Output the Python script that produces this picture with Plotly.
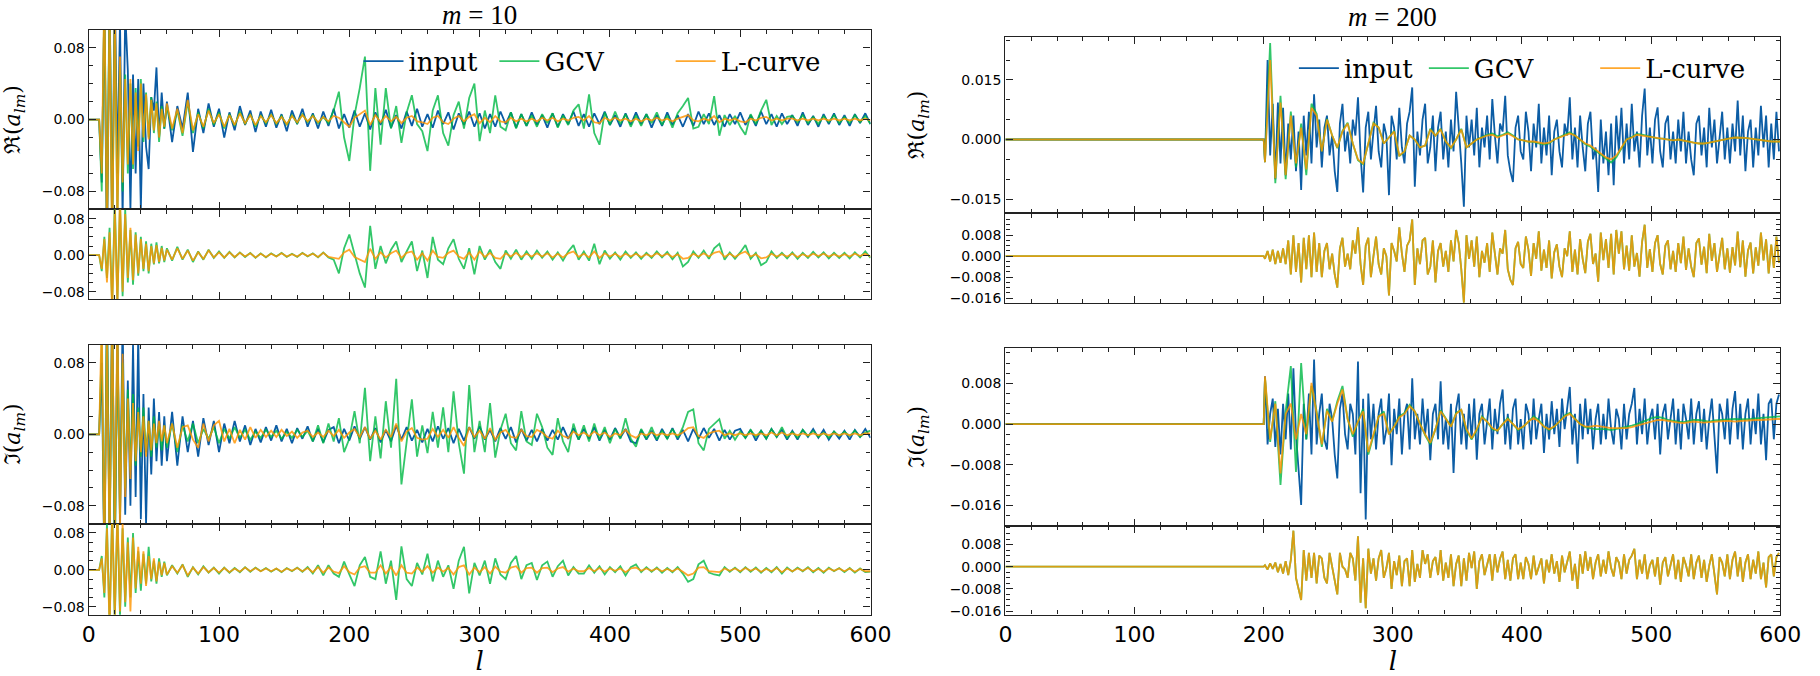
import plotly.graph_objects as go

W, H = 1820, 676

# ---------------- l grids ----------------
L_M10 = list(range(0, 60, 2)) + list(range(60, 601, 4))
L_M200 = [0, 200] + list(range(201, 598, 4)) + [600]          # smooth reconstructions
L_M200_FINE = [0, 200] + list(range(201, 600, 2))              # noisy input / residuals

# ---------------- m = 10 (values in units of 1e-3) ----------------
RE10_IN = [
 0,0,0,0,0,-70,130,-150,140,-120,150,-60,110,-110,120,55,-100,50,-60,45,-100,40,-30,-55,25,10,58,-20,30,-10,
 20,-25,15,-10,30,-36,12,-15,18,-8,
 12,-20,8,-12,15,-6,10,-14,9,-8,
 11,-9,6,-13,10,-5,12,-8,7,-10,
 9,-7,12,-10,6,-9,10,-8,7,-11,
 8,-6,11,-9,5,-10,9,-7,12,-8,
 6,-9,10,-5,8,-11,7,-6,9,-8,
 7,-10,6,-8,9,-5,8,-9,6,-7,
 8,-6,5,-9,7,-8,6,-5,9,-7,
 6,-8,7,-5,9,-6,5,-8,7,-6,
 8,-5,6,-9,5,-7,8,-6,5,-8,
 6,-7,9,-5,7,-6,5,-8,6,-5,
 8,-6,5,-7,9,-5,6,-8,7,-5,
 5,-7,8,-6,4,-8,6,-5,7,-6,
 5,-7,6,-4,7,-5,
]
RE10_GCV = [
 0,0,0,0,0,-80,140,-130,150,-140,120,-110,60,-80,50,-60,40,-55,35,-30,45,-25,30,-20,25,-15,20,-25,15,-10,
 15,-12,10,-18,20,-15,8,-10,12,-6,
 8,-10,6,-7,9,-5,6,-8,5,-4,
 6,-5,4,-6,5,-4,6,-3,5,-4,
 3,-4,10,31,-20,-46,5,35,70,-57,
 35,-28,35,-10,15,-26,8,27,-5,-13,
 -35,10,27,-15,-29,5,20,-10,24,40,
 -24,10,-15,27,-8,-12,8,-10,6,-7,
 5,-8,6,-4,7,-9,5,-6,10,17,
 -10,28,-15,-28,8,-6,9,-5,6,-8,
 5,-7,6,-4,8,-6,5,-9,7,15,
 24,-10,-8,6,-5,26,-18,5,-6,4,
 -8,-17,6,-5,10,22,-6,4,-5,3,
 4,-3,5,-4,3,-5,4,-3,5,-4,
 3,-4,5,-3,4,-5,
]
RE10_LC = [
 0,0,0,0,0,-60,150,-140,130,-150,130,-120,70,-70,45,-50,45,-50,30,-35,40,-20,28,-22,22,-12,18,-20,12,-8,
 18,-10,12,-15,22,-12,6,-8,10,-4,
 6,-8,5,-6,7,-4,5,-6,4,-3,
 5,-4,3,-5,4,-3,5,-2,4,-3,
 3,-2,4,2,-3,-8,2,6,10,-6,
 5,-3,4,-2,3,-4,2,4,-2,-3,
 -5,2,4,-3,-5,1,4,-2,3,6,
 -4,2,-3,4,-2,-3,2,-2,1,-2,
 1,-2,2,-1,2,-2,1,-1,2,3,
 -1,4,-3,-4,2,-1,2,-1,1,-2,
 1,-2,1,-1,2,-1,1,-2,1,3,
 5,-1,-2,1,-1,4,-3,1,-1,1,
 -2,-3,1,-1,2,3,-1,1,-1,1,
 1,-1,1,-1,1,-1,1,-1,1,-1,
 1,-1,1,-1,1,-1,
]
RE10_RES_GCV = [
 0,0,0,0,0,-35,40,-50,60,-110,120,-100,110,-90,100,-60,55,-65,50,-45,40,-35,30,-40,25,-20,28,-18,20,-15,
 15,-12,18,-10,12,-15,8,-10,12,-6,
 8,-6,7,-5,6,-4,5,-6,4,-5,
 4,-3,5,-4,3,-4,5,-3,4,-5,
 6,-5,-10,-40,15,45,5,-40,-71,64,
 -30,20,-18,12,30,-15,8,30,-35,10,
 -50,40,-10,-20,15,35,-8,-30,15,-42,
 20,-10,12,-15,-30,10,-8,12,-10,8,
 -8,10,-6,8,-10,6,-12,8,22,-10,
 8,-12,25,-20,10,-8,6,-10,8,-6,
 6,-8,5,-6,8,-5,7,-9,5,-25,
 -15,8,-6,10,-8,15,25,-10,6,-8,
 6,22,-8,5,-22,-15,8,-6,5,-7,
 6,-8,5,-6,7,-5,6,-7,5,-6,
 5,-7,6,-5,8,-6,
]
RE10_RES_LC = [
 0,0,0,0,0,-30,35,-60,50,-120,100,-110,130,-80,90,-50,60,-55,45,-40,35,-30,25,-35,20,-18,22,-15,16,-12,
 12,-10,15,-8,10,-12,6,-8,10,-5,
 6,-5,6,-4,5,-3,4,-5,3,-4,
 3,-3,4,-3,2,-3,4,-2,3,-4,
 5,-4,-6,-8,6,12,-4,-10,-15,14,
 -8,6,-5,4,10,-6,5,8,-10,4,
 -12,10,-4,-6,5,10,-3,-8,6,-10,
 8,-4,5,-6,-8,4,-3,5,-4,3,
 -3,4,-3,4,-5,3,-5,4,8,-4,
 3,-5,8,-6,4,-3,3,-4,3,-3,
 3,-4,2,-3,4,-2,3,-4,2,-8,
 -6,3,-3,4,-3,5,8,-4,3,-4,
 3,8,-3,2,-7,-5,3,-3,2,-3,
 3,-4,2,-3,3,-2,3,-3,2,-3,
 2,-3,3,-2,3,-3,
]
IM10_IN = [
 0,0,0,0,0,80,-150,140,-120,150,-140,120,-100,130,-90,60,-80,100,-70,110,-95,45,-100,30,-45,40,-30,25,-35,20,
 -30,25,-35,20,-20,15,-25,18,-12,15,
 -20,12,-10,15,-8,10,-12,6,-9,8,
 -7,10,-8,6,-10,7,-5,9,-8,6,
 -9,5,8,-10,6,-7,9,-5,8,-6,
 7,-9,5,-8,10,-6,8,-7,5,-9,
 6,-8,9,-5,7,-10,6,-7,8,-5,
 9,-6,5,-8,7,-5,8,-9,6,-7,
 5,-8,6,-7,5,-6,8,-5,7,-6,
 6,-5,8,-7,5,-6,7,-4,6,-8,
 -10,5,-6,4,-7,6,-5,7,-6,5,
 -8,6,-5,7,-4,6,-7,5,-6,4,
 6,-4,5,-7,4,-5,6,-3,5,-6,
 4,-6,5,-3,6,-4,5,-6,3,-5,
 4,-6,5,-3,6,-4,
]
IM10_GCV = [
 0,0,0,0,0,100,-140,150,-130,140,-150,110,-90,80,-60,50,-40,45,-35,30,-25,30,-20,15,-25,20,-15,12,-18,10,
 -15,12,-20,10,-8,12,-10,6,-5,8,
 -10,6,-5,8,-4,5,-6,3,-4,5,
 -3,4,-5,3,-4,5,-3,4,-8,10,
 -10,12,-8,18,-20,-5,26,-10,52,-30,
 20,-27,37,-15,62,-56,-10,39,-25,10,
 -21,25,-15,30,-20,48,-10,-44,55,-20,
 15,-20,35,-26,5,23,-10,-18,26,-8,
 -12,23,8,-15,-23,18,-8,-20,12,-6,
 10,-8,12,-6,8,-10,6,-5,18,-5,
 -14,6,-5,8,-6,4,-5,6,-4,8,
 25,28,-10,-18,6,12,17,-5,4,-6,
 3,-4,5,-3,4,-5,6,-3,8,-4,
 3,-4,5,-2,4,-3,2,-4,3,-2,
 3,-2,4,-3,2,4,
]
IM10_LC = [
 0,0,0,0,0,130,-150,120,-140,150,-120,140,-110,90,-70,40,-50,35,-30,25,-20,20,-25,15,-18,12,-10,15,-8,10,
 -10,12,-15,8,10,-6,-15,12,-8,10,
 15,-8,6,-10,5,-6,8,-4,5,-3,
 4,-3,5,-2,3,-4,2,4,-3,2,
 -3,4,-2,5,-4,2,6,-3,8,-5,
 4,-6,5,-3,12,-8,3,7,-4,-6,
 -5,6,-3,5,-4,8,-4,-13,8,-3,
 4,-5,7,-6,2,5,-3,-4,5,-2,
 -3,5,2,-3,-5,4,-2,-4,3,-1,
 2,-2,3,-1,2,-3,1,-1,5,-1,
 -4,1,-1,2,-1,1,-1,1,-1,2,
 7,8,-2,-4,1,3,4,-1,1,-1,
 1,-1,1,-1,1,-1,2,-1,2,-1,
 1,-1,1,-1,1,-1,1,-1,1,-1,
 1,-1,1,-1,1,1,
]
IM10_RES_GCV = [
 0,0,0,0,0,30,-60,100,-120,130,-110,120,-100,90,-80,70,-60,80,-50,40,-45,35,-30,50,-25,20,-30,25,-15,18,
 -12,10,-8,12,-15,6,-10,8,-6,5,
 -8,5,-6,4,-5,6,-4,5,-3,4,
 -4,3,-5,4,-3,5,-4,6,-8,10,
 -12,10,-8,-15,18,-10,-35,10,28,-15,
 -20,40,-30,20,-65,51,-20,-35,15,-10,
 35,-25,20,-15,10,-41,20,50,-51,15,
 -12,20,-30,25,-10,-20,15,30,-20,10,
 15,-22,10,18,-15,8,20,-12,6,-8,
 -8,10,-6,8,-10,6,-5,8,-12,6,
 12,-5,6,-4,5,-6,4,-5,6,-8,
 -26,-20,12,20,-6,-10,-12,6,-4,5,
 -5,6,-4,5,-6,4,-5,6,-8,5,
 -4,5,-3,6,-5,4,-6,5,-3,4,
 -5,4,-6,3,-5,-4,
]
IM10_RES_LC = [
 0,0,0,0,0,25,-50,90,-130,120,-100,130,-90,100,-70,60,-90,70,-40,50,-30,40,-35,30,-20,25,-25,18,-12,15,
 -10,8,-6,10,-12,5,-8,6,-5,4,
 -6,4,-5,3,-4,5,-3,4,-3,3,
 -3,3,-4,3,-2,4,-3,4,-5,6,
 -6,5,-4,-7,8,-5,-10,5,8,-6,
 -6,10,-8,6,-12,10,-6,-8,5,-4,
 8,-6,5,-4,4,-10,6,10,-10,5,
 -5,6,-8,7,-4,-6,5,8,-6,4,
 5,-6,4,5,-5,3,6,-4,3,-3,
 -3,4,-3,4,-4,3,-2,3,-5,3,
 5,-2,3,-2,3,-3,2,-3,3,-4,
 -12,-8,5,6,-3,-4,-5,3,-2,3,
 -3,4,-2,3,-4,2,-3,4,-5,3,
 -3,3,-2,4,-3,2,-4,3,-2,3,
 -3,3,-4,2,-3,-3,
]

# ---------------- m = 200 (values in units of 1e-4) ----------------
# noisy series on L_M200_FINE (l = 0, 200, 201, 203, ..., 599)
RE200_IN = [0, 0,
 -57,200,-40,90,-100,93,-60,80,-90,40,-50,60,-80,20,-127,60,-40,70,-60,114,
 -20,50,-70,30,60,-40,10,-80,-132,40,90,-30,20,-60,50,10,106,-40,-133,30,
 70,-50,20,85,-30,-70,40,10,-140,60,30,-50,80,-20,-60,40,70,131,-119,20,
 -40,50,90,-60,-20,60,-80,30,70,-50,20,-70,50,-30,120,40,-60,-169,60,-20,
 50,-40,80,-70,30,-20,60,-50,102,10,-60,40,20,110,-40,-80,-107,30,60,-30,
 -50,70,20,-80,40,-20,90,-60,30,-40,60,-90,20,50,-30,-70,40,10,106,-50,
 30,-70,60,-20,-80,40,70,-50,-20,-132,50,-60,20,-90,40,-115,60,-30,80,-60,
 40,-50,90,-30,20,-70,60,128,-40,30,-60,50,81,-30,-70,40,60,-50,20,-60,
 50,-30,70,-60,20,-50,-90,40,60,-40,30,-70,80,-20,50,-60,10,70,-50,30,
 -60,40,-30,98,-40,60,-80,20,50,-70,30,-40,85,-20,60,-70,40,-50,70,-30,
]
RE200_RES = [0, 0,
 -10,20,-20,25,-30,20,-25,30,-30,60,-70,80,-60,50,-100,70,-50,80,-80,90,
 -60,50,-80,20,50,-50,10,-70,-120,30,70,-40,10,-50,60,10,110,-30,-110,40,
 70,-80,0,75,-30,-70,30,0,-150,50,20,-20,110,10,-60,40,60,140,-110,30,
 -30,60,70,-70,-40,60,-100,20,50,-40,20,-60,60,-20,100,50,-50,-177,80,-10,
 60,-40,75,-80,20,-25,50,-60,90,0,-70,30,10,100,-50,-90,-110,30,55,-30,
 -45,75,25,-75,50,-10,95,-55,25,-45,60,-85,15,45,-40,-80,30,0,95,-60,
 25,-70,65,-10,-65,55,85,-30,10,-97,90,-15,65,-45,85,-70,100,10,95,-50,
 40,-55,80,-40,12,-78,55,120,-45,27,-60,50,80,-30,-70,40,60,-50,20,-60,
 50,-27,75,-52,30,-40,-80,50,68,-32,36,-65,85,-18,50,-60,10,70,-50,30,
 -63,35,-35,94,-42,60,-78,22,52,-66,34,-36,90,-16,64,-66,44,-45,75,-25,
]
IM200_IN = [0, 0,
 94,-40,20,50,-45,30,-60,40,-30,60,-50,110,-20,-97,-159,40,-30,60,-60,127,
 -40,20,60,-30,-50,40,10,-60,-107,30,60,-20,-50,40,20,-60,123,-136,50,-188,
 60,-30,40,-50,20,50,-40,-10,60,-81,30,-20,50,-60,20,40,-50,90,-30,20,
 -40,50,-20,30,-71,20,40,-30,84,-40,10,-50,40,-96,30,60,-40,20,-50,40,
 -30,50,-70,20,40,-40,10,50,-50,30,-20,40,68,-40,20,-50,30,50,-40,10,
 -50,40,20,-40,50,-30,10,40,-57,20,-30,45,-20,30,-45,50,-10,30,73,-40,
 20,-78,40,-30,50,-20,30,-50,10,40,-40,20,-30,50,-10,-40,30,10,-50,40,
 -30,20,40,71,-40,30,-20,50,-40,10,30,-30,40,-60,20,40,-30,10,50,-40,
 30,-50,40,10,-30,50,-40,20,45,-35,30,-50,10,50,-20,-97,40,20,-30,50,
 -40,30,65,-30,40,-50,20,50,-40,30,-20,60,-40,20,-71,40,50,-30,40,58,
]
IM200_RES = [0, 0,
 5,-10,12,-8,15,-20,10,-25,20,-30,25,130,-40,-80,-120,60,-50,50,-40,50,
 -60,40,30,-40,-60,50,0,-50,-100,50,0,-10,-40,50,30,-50,110,-130,30,-150,
 65,-25,30,-50,30,60,-40,-5,50,-80,20,-30,40,-70,20,30,-70,60,-55,10,
 -40,60,10,45,-40,20,35,-30,60,-50,15,-40,45,-70,10,40,-70,30,-50,50,
 -5,55,-80,20,45,-30,10,45,-50,45,-20,30,55,-45,25,-50,30,45,-45,15,
 -45,35,10,-45,40,-30,0,30,-60,25,-20,45,-25,20,-55,40,-20,20,55,-50,
 10,-80,45,-25,55,-15,35,-45,15,45,-35,25,-25,55,-5,-35,35,15,-45,45,
 -25,25,40,65,-45,25,-25,45,-45,5,25,-35,35,-65,15,35,-35,5,45,-45,
 25,-55,35,5,-35,45,-45,15,40,-40,25,-55,5,45,-25,-100,35,15,-35,45,
 -45,25,55,-35,35,-55,15,45,-45,25,-25,55,-45,15,-75,35,45,-35,35,50,
]
# smooth reconstructions on L_M200 (l = 0, 200, 201, 205, ..., 597, 600)
RE200_GCV = [0, 0,
 -57,243,-110,110,-100,70,-70,40,-90,90,
 65,-30,52,10,-22,22,42,-10,-52,-62,
 -10,42,30,-10,5,22,-42,-30,10,0,
 -20,-15,27,10,27,-5,-22,0,27,-20,
 -10,0,6,12,15,8,12,18,10,0,
 -2,-6,-6,-10,-12,-10,0,6,12,18,
 10,0,-12,-18,-28,-40,-50,-58,-45,-22,
 0,6,14,12,9,6,3,2,0,-2,
 0,-3,-5,-8,-10,-10,-8,-5,-2,0,
 3,5,5,4,2,0,-2,-4,-5,-5,
 -5]
RE200_LC = [0, 0,
 -57,200,-98,93,-90,60,-60,30,-75,80,
 60,-30,50,10,-20,20,40,-10,-50,-60,
 -10,40,30,-10,5,20,-40,-30,10,0,
 -20,-15,25,10,25,-5,-20,0,25,-20,
 -10,0,5,10,12,5,10,15,8,0,
 -2,-5,-5,-8,-10,-8,0,5,10,15,
 10,0,-10,-15,-25,-35,-45,-50,-40,-20,
 0,5,12,10,8,5,3,2,0,-2,
 0,-3,-5,-8,-10,-10,-8,-5,-2,0,
 3,5,5,4,2,0,-2,-4,-5,-5,
 -5]
IM200_GCV = [0, 0,
 90,-35,45,-120,25,114,-94,120,-30,75,
 25,-45,30,5,45,75,10,-25,5,30,
 -60,-25,15,25,-20,-5,15,22,38,25,
 0,-22,-40,-10,27,10,-5,22,28,-12,
 -30,-12,15,5,-10,-13,0,12,0,-12,
 -5,5,15,8,-5,-12,-5,5,17,22,
 10,0,-6,-8,-10,-10,-10,-12,-10,-8,
 -6,-3,0,4,8,12,14,12,8,6,
 5,4,6,8,8,6,5,7,8,9,
 10,10,9,9,10,11,12,13,14,14,
 15]
IM200_LC = [0, 0,
 94,-30,40,-97,20,40,-30,20,-20,81,
 20,-40,26,5,40,68,10,-20,5,25,
 -55,-20,15,20,-20,-5,13,20,35,25,
 0,-20,-37,-10,25,10,-5,20,28,-10,
 -28,-10,13,5,-8,-13,0,10,0,-10,
 -5,5,12,5,-5,-10,-5,5,15,20,
 10,0,-5,-5,-3,-5,-6,-8,-8,-8,
 -8,-6,-3,0,3,6,8,8,6,4,
 3,2,4,5,4,3,4,5,6,6,
 6,5,6,7,7,8,8,9,9,10,
 10]

SCALE_M10 = 1e-3
SCALE_M200 = 1e-4

# ---------------- styling ----------------
NAMES = {"in": "input", "gcv": "GCV", "lc": "L-curve"}
COLORS = {"in": "#0C5DA5", "gcv": "#00B945", "lc": "#FF9500"}
OPAC = {"in": 1.0, "gcv": 0.8, "lc": 0.82}
LW = 1.8

TICK_FONT = dict(family="DejaVu Sans", size=14, color="black")
XTICK_FONT = dict(family="DejaVu Sans", size=22, color="black")
SERIF = "DejaVu Serif"


def ydom(top, bot):
    return [1 - bot / H, 1 - top / H]


LEFT = [83 / W, 877 / W]
RIGHT = [1014 / W, 1801 / W]
RE_T = "ℜ(<i>a</i><sub><i>lm</i></sub>)"
IM_T = "ℑ(<i>a</i><sub><i>lm</i></sub>)"
T_M10 = [-0.08, 0.0, 0.08]
T_RE200 = [-0.015, 0.0, 0.015]
T_200 = [-0.016, -0.008, 0.0, 0.008]

panels = [
    dict(n=1, xd=LEFT, yd=ydom(30, 212), yr=[-0.1, 0.1], tv=T_M10, mdt=0.02, fmt=".2f", title=RE_T, bottom=False,
         s=SCALE_M10, tr=[("in", L_M10, RE10_IN), ("gcv", L_M10, RE10_GCV), ("lc", L_M10, RE10_LC)],
         legs=["legend", "legend2", "legend3"]),
    dict(n=2, xd=LEFT, yd=ydom(212, 303), yr=[-0.097, 0.1], tv=T_M10, mdt=0.02, fmt=".2f", title=None, bottom=False,
         s=SCALE_M10, tr=[("gcv", L_M10, RE10_RES_GCV), ("lc", L_M10, RE10_RES_LC)], legs=None),
    dict(n=3, xd=LEFT, yd=ydom(349, 530), yr=[-0.1, 0.1], tv=T_M10, mdt=0.02, fmt=".2f", title=IM_T, bottom=False,
         s=SCALE_M10, tr=[("in", L_M10, IM10_IN), ("gcv", L_M10, IM10_GCV), ("lc", L_M10, IM10_LC)], legs=None),
    dict(n=4, xd=LEFT, yd=ydom(530, 622), yr=[-0.097, 0.1], tv=T_M10, mdt=0.02, fmt=".2f", title=None, bottom=True,
         s=SCALE_M10, tr=[("gcv", L_M10, IM10_RES_GCV), ("lc", L_M10, IM10_RES_LC)], legs=None),
    dict(n=5, xd=RIGHT, yd=ydom(37, 216), yr=[-0.0186, 0.0259], tv=T_RE200, mdt=0.005, fmt=".3f", title=RE_T,
         bottom=False, s=SCALE_M200,
         tr=[("in", L_M200_FINE, RE200_IN), ("gcv", L_M200, RE200_GCV), ("lc", L_M200, RE200_LC)],
         legs=["legend4", "legend5", "legend6"]),
    dict(n=6, xd=RIGHT, yd=ydom(216, 307), yr=[-0.018, 0.0163], tv=T_200, mdt=0.002, fmt=".3f", title=None,
         bottom=False, s=SCALE_M200, tr=[("gcv", L_M200_FINE, RE200_RES), ("lc", L_M200_FINE, RE200_RES)], legs=None),
    dict(n=7, xd=RIGHT, yd=ydom(352, 532), yr=[-0.020, 0.015], tv=T_200, mdt=0.002, fmt=".3f", title=IM_T,
         bottom=False, s=SCALE_M200,
         tr=[("in", L_M200_FINE, IM200_IN), ("gcv", L_M200, IM200_GCV), ("lc", L_M200, IM200_LC)], legs=None),
    dict(n=8, xd=RIGHT, yd=ydom(532, 622), yr=[-0.0173, 0.0148], tv=T_200, mdt=0.002, fmt=".3f", title=None,
         bottom=True, s=SCALE_M200, tr=[("gcv", L_M200_FINE, IM200_RES), ("lc", L_M200_FINE, IM200_RES)], legs=None),
]

fig = go.Figure()
layout = {}
for p in panels:
    n = p["n"]
    for i, (key, lx, vals) in enumerate(p["tr"]):
        leg = p["legs"][i] if p["legs"] else None
        fig.add_trace(go.Scatter(
            x=lx, y=[v * p["s"] for v in vals],
            xaxis=f"x{n}", yaxis=f"y{n}", mode="lines",
            name=NAMES[key], opacity=OPAC[key],
            line=dict(color=COLORS[key], width=LW),
            showlegend=leg is not None,
            legend=leg if leg else "legend",
        ))
    common = dict(showline=True, linecolor="#222", linewidth=1.3, mirror="allticks",
                  ticks="inside", ticklen=7, tickwidth=1.1, tickcolor="#222",
                  showgrid=False, zeroline=False)
    xa = dict(domain=p["xd"], anchor=f"y{n}", range=[0, 600], tickmode="linear", tick0=0, dtick=100,
              minor=dict(tickmode="linear", tick0=0, dtick=20, ticks="inside", ticklen=4, tickcolor="#222"),
              showticklabels=p["bottom"], tickfont=XTICK_FONT, **common)
    if p["bottom"]:
        xa["title"] = dict(text="<i>l</i>", font=dict(family=SERIF, size=26, color="black"), standoff=11)
    layout[f"xaxis{n}"] = xa
    ya = dict(domain=p["yd"], anchor=f"x{n}", range=p["yr"], tickmode="array", tickvals=p["tv"],
              tickformat=p["fmt"],
              minor=dict(tickmode="linear", tick0=0, dtick=p["mdt"], ticks="inside", ticklen=4, tickcolor="#222"),
              tickfont=TICK_FONT, **common)
    if p["title"]:
        ya["title"] = dict(text=p["title"], font=dict(family=SERIF, size=22, color="black"), standoff=18)
    layout[f"yaxis{n}"] = ya

leg_common = dict(orientation="h", xanchor="left", yanchor="middle", bgcolor="rgba(0,0,0,0)",
                  font=dict(family=SERIF, size=26, color="black"), itemwidth=40, borderwidth=0)
# legend x positions (px) for each entry: left column then right column
LEG_X = [357, 495, 674, 1307, 1439, 1613]
LEG_Y = [62, 62, 62, 69, 69, 69]
for i, (lx, ly) in enumerate(zip(LEG_X, LEG_Y)):
    key = "legend" if i == 0 else f"legend{i + 1}"
    layout[key] = dict(x=lx / W, y=1 - ly / H, **leg_common)

fig.update_layout(
    width=W, height=H, margin=dict(l=0, r=0, t=0, b=0),
    paper_bgcolor="white", plot_bgcolor="white",
    font=dict(family="DejaVu Sans", color="black"),
    annotations=[
        dict(text="<i>m</i> = 10", x=(83 + 877) / 2 / W, y=1 - 15 / H, xref="paper", yref="paper",
             showarrow=False, xanchor="center", yanchor="middle", borderpad=0,
             font=dict(family="Liberation Serif", size=27, color="black")),
        dict(text="<i>m</i> = 200", x=(1014 + 1801) / 2 / W, y=1 - 17 / H, xref="paper", yref="paper",
             showarrow=False, xanchor="center", yanchor="middle", borderpad=0,
             font=dict(family="Liberation Serif", size=27, color="black")),
    ],
    **layout,
)

fig.write_html("out.html")
